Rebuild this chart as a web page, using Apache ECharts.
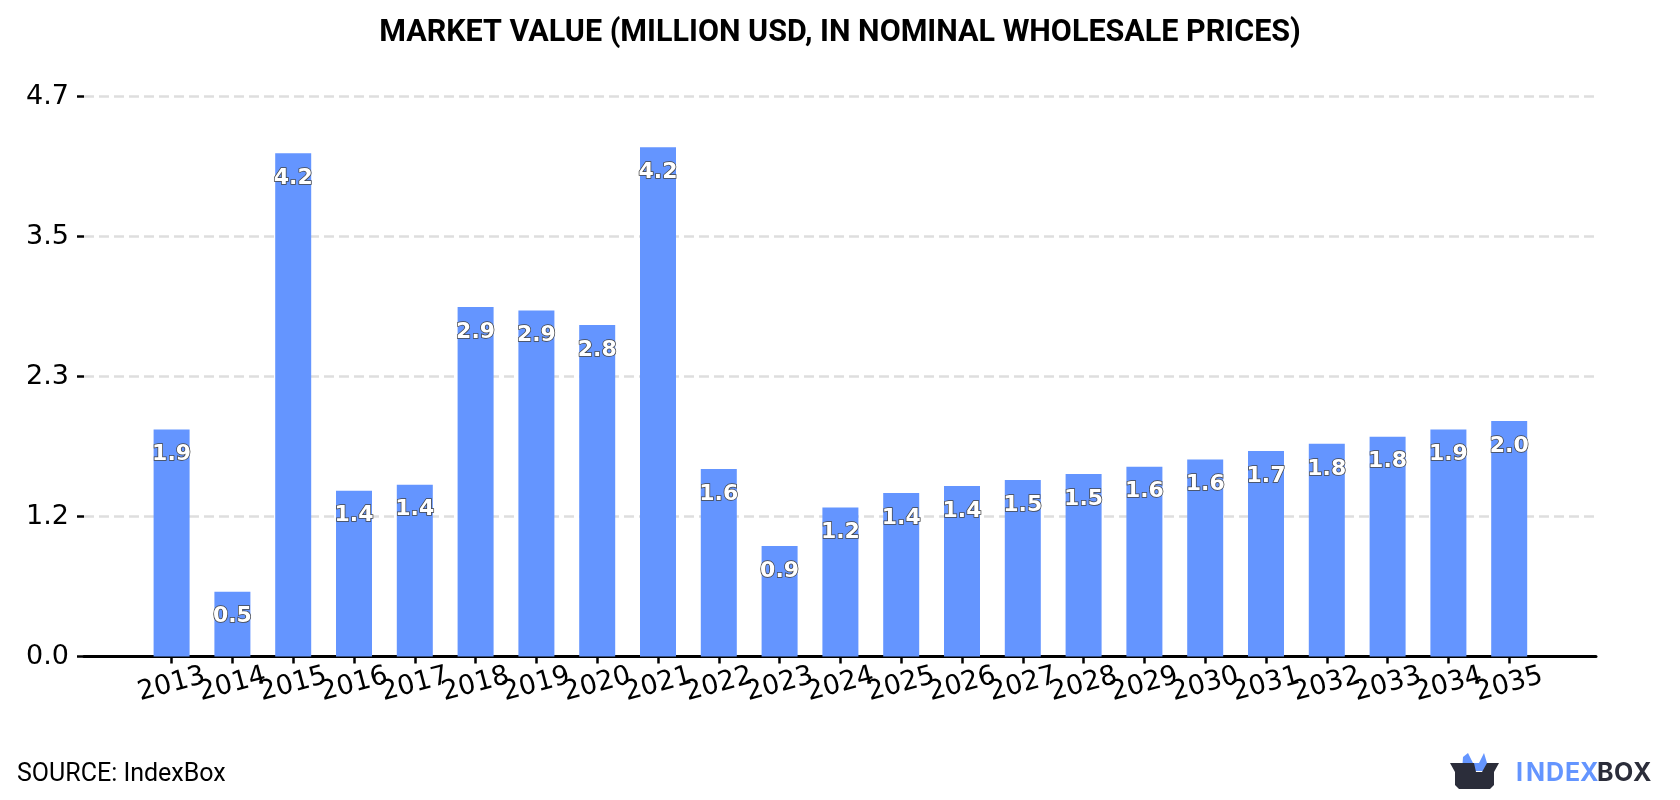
<!DOCTYPE html>
<html>
<head>
<meta charset="utf-8">
<style>html,body{margin:0;padding:0;background:#fff}#chart{width:1680px;height:800px}</style>
<script src="https://cdn.jsdelivr.net/npm/echarts@6/dist/echarts.min.js"></script>
</head>
<body>
<div id="chart"></div>
<script>
// Market value by year, million USD
const years = ['2013','2014','2015','2016','2017','2018','2019','2020','2021','2022','2023','2024','2025','2026','2027','2028','2029','2030','2031','2032','2033','2034','2035'];
const values = [1.89,0.54,4.19,1.38,1.43,2.91,2.88,2.76,4.24,1.56,0.92,1.24,1.36,1.42,1.47,1.52,1.58,1.64,1.71,1.77,1.83,1.89,1.96];
const titleText = 'MARKET VALUE (MILLION USD, IN NOMINAL WHOLESALE PRICES)';
const sourceText = 'SOURCE: IndexBox';
const yMax = 4.66;
const yStep = 1.165;

const BLUE = '#6495ff';
const DARK = '#2b2d3a';
const TICK_FONT = 'DejaVu Sans';

// Wordmark letters, spaced by hand
const brandLetters = [['I',1516,BLUE],['N',1526,BLUE],['D',1546,BLUE],['E',1565,BLUE],['X',1580,BLUE],['B',1597,DARK],['O',1614,DARK],['X',1633,DARK]];

const chart = echarts.init(document.getElementById('chart'), null, {renderer: 'canvas'});
chart.setOption({
  animation: false,
  backgroundColor: '#fff',
  title: {
    text: titleText,
    left: 'center',
    top: 13,
    textStyle: {fontFamily: 'Roboto', fontWeight: 'bold', fontSize: 30.5, color: '#000'}
  },
  // Outer grid carries the long baseline, y scale and gridlines; inner grid carries the bars
  grid: [
    {left: 84, right: 84, top: 96.7, bottom: 143.5},
    {left: 141.2, width: 1398.4, top: 96.7, bottom: 143.5}
  ],
  xAxis: [
    {
      gridIndex: 0,
      type: 'value',
      min: 0,
      max: 1,
      splitLine: {show: false},
      axisLine: {show: true, onZero: false, lineStyle: {color: '#000', width: 3}},
      axisTick: {show: false},
      axisLabel: {show: false}
    },
    {
      gridIndex: 1,
      type: 'category',
      data: years,
      axisLine: {show: false},
      axisTick: {show: true, interval: 0, alignWithLabel: true, length: 7, lineStyle: {color: '#000', width: 2.5}},
      axisLabel: {
        interval: 0,
        rotate: 15,
        align: 'center',
        verticalAlign: 'middle',
        margin: 28,
        fontFamily: TICK_FONT,
        fontSize: 27,
        color: '#000'
      }
    }
  ],
  yAxis: [
    {
      gridIndex: 0,
      type: 'value',
      min: 0,
      max: yMax,
      interval: yStep,
      axisLine: {show: false},
      axisTick: {show: true, length: 7, lineStyle: {color: '#000', width: 2.5}},
      axisLabel: {
        margin: 15,
        padding: [4, 0, 0, 0],
        fontFamily: TICK_FONT,
        fontSize: 27,
        color: '#000',
        formatter: v => v.toFixed(1)
      },
      splitLine: {show: true, lineStyle: {color: '#dedede', width: 2.5, type: [10, 5]}}
    },
    {
      gridIndex: 1,
      type: 'value',
      min: 0,
      max: yMax,
      show: false
    }
  ],
  series: [{
    type: 'bar',
    xAxisIndex: 1,
    yAxisIndex: 1,
    barWidth: 36,
    data: values,
    itemStyle: {color: BLUE},
    label: {
      show: true,
      position: 'insideTop',
      distance: 14,
      fontFamily: TICK_FONT,
      fontWeight: 'bold',
      fontSize: 22,
      color: '#fff',
      textBorderColor: '#444',
      textBorderWidth: 1.5,
      formatter: p => p.value.toFixed(1)
    }
  }],
  graphic: [
    {type: 'text', left: 17, top: 762, style: {text: sourceText, fontFamily: 'Roboto', fontSize: 25, fill: '#000'}},
    // IndexBox mark: open box with blue ears
    {type: 'polygon', shape: {points: [[1462,771],[1463,757],[1468,753],[1473,763],[1479,763],[1484,753],[1487,763],[1487,771]]}, style: {fill: BLUE}},
    {type: 'polygon', shape: {points: [[1450,763],[1474,763],[1476,772],[1482,772],[1487,763],[1499,763],[1494,772],[1494,785],[1490,789],[1459,789],[1455,785],[1455,772]]}, style: {fill: DARK}},
    ...brandLetters.map(([ch, x, fill]) => ({
      type: 'text', left: x, top: 761,
      style: {text: ch, fontFamily: 'Inter', fontWeight: 'bold', fontSize: 25, fill}
    }))
  ]
});
</script>
</body>
</html>
